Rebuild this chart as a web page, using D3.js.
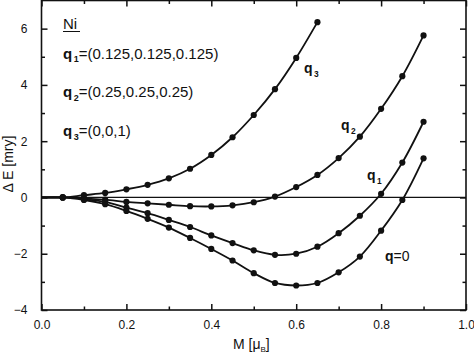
<!DOCTYPE html>
<html><head><meta charset="utf-8">
<script src="https://cdn.jsdelivr.net/npm/d3@7"></script>
<style>body{margin:0;background:#fff}svg{display:block}text{font-family:"Liberation Sans",Arial,Helvetica,sans-serif;fill:#111}</style>
</head><body>
<script>
const M = [0,0.05,0.1,0.15,0.2,0.25,0.3,0.35,0.4,0.45,0.5,0.55,0.6,0.65,0.7,0.75,0.8,0.85,0.9];
const q3 = [0,0,0.08,0.16,0.29,0.45,0.68,1.02,1.51,2.14,2.93,3.85,4.96,6.23];
const q2 = [0,0,-0.04,-0.08,-0.16,-0.21,-0.26,-0.31,-0.32,-0.28,-0.17,0.03,0.37,0.80,1.40,2.16,3.15,4.31,5.76];
const q1 = [0,0,-0.06,-0.16,-0.36,-0.56,-0.80,-1.05,-1.35,-1.62,-1.88,-2.04,-2.00,-1.75,-1.27,-0.65,0.13,1.24,2.69];
const q0 = [0,0,-0.09,-0.24,-0.48,-0.76,-1.07,-1.44,-1.83,-2.24,-2.69,-3.04,-3.13,-3.04,-2.66,-2.10,-1.18,-0.09,1.39];
const seriesList = [q3,q2,q1,q0];
const xTicks = [0,0.2,0.4,0.6,0.8,1.0];
const yTicks = [-4,-2,0,2,4,6];

const W=474,H=356;
const L=41.5,R=466,T=0.5,B=310;
const svg=d3.select("body").append("svg").attr("width",W).attr("height",H);
const x=d3.scaleLinear().domain([0,1]).range([L,R]);
const y=d3.scaleLinear().domain([-4,7]).range([B,T]);

// frame
svg.append("rect").attr("x",L).attr("y",T).attr("width",R-L).attr("height",B-T)
  .attr("fill","none").attr("stroke","#111").attr("stroke-width",1.6);

// ticks (inward)
const minorX=d3.range(0.1,1,0.2), minorY=d3.range(-3,7,2);
function fmtX(d){return d.toFixed(1);}
const axB=d3.axisBottom(x).tickValues(xTicks).tickSize(-6).tickFormat(fmtX).tickPadding(10);
const gB=svg.append("g").attr("transform",`translate(0,${B})`).call(axB);
svg.append("g").attr("transform",`translate(0,${B})`).call(d3.axisBottom(x).tickValues(minorX).tickSize(-3.5).tickFormat(""));
svg.append("g").attr("transform",`translate(0,${T})`).call(d3.axisTop(x).tickValues(xTicks).tickSize(-6).tickFormat(""));
svg.append("g").attr("transform",`translate(0,${T})`).call(d3.axisTop(x).tickValues(minorX).tickSize(-3.5).tickFormat(""));
const gL=svg.append("g").attr("transform",`translate(${L},0)`).call(d3.axisLeft(y).tickValues(yTicks).tickSize(-6).tickFormat(d3.format("d")).tickPadding(14));
svg.append("g").attr("transform",`translate(${L},0)`).call(d3.axisLeft(y).tickValues(minorY).tickSize(-3.5).tickFormat(""));
svg.append("g").attr("transform",`translate(${R},0)`).call(d3.axisRight(y).tickValues(yTicks).tickSize(-6).tickFormat(""));
svg.append("g").attr("transform",`translate(${R},0)`).call(d3.axisRight(y).tickValues(minorY).tickSize(-3.5).tickFormat(""));
svg.selectAll(".domain").remove();
svg.selectAll(".tick line").attr("stroke","#111").attr("stroke-width",1.5);
svg.selectAll(".tick text").attr("font-size",12).attr("fill","#111");

// zero line
svg.append("line").attr("x1",L).attr("x2",R).attr("y1",y(0)).attr("y2",y(0)).attr("stroke","#111").attr("stroke-width",1.2);

const line=d3.line().x(d=>x(d[0])).y(d=>y(d[1])).curve(d3.curveCatmullRom.alpha(0.5));
seriesList.forEach(s=>{
  const pts=s.map((v,i)=>[M[i],v]);
  svg.append("path").attr("d",line(pts)).attr("fill","none").attr("stroke","#111").attr("stroke-width",1.8);
  svg.selectAll(null).data(pts.filter(p=>p[0]>0)).enter().append("circle")
    .attr("cx",d=>x(d[0])).attr("cy",d=>y(d[1])).attr("r",3.1).attr("fill","#111");
});

// legend text
const fs=15;
svg.append("text").attr("x",63).attr("y",29).attr("font-size",fs).text("Ni");
svg.append("line").attr("x1",63).attr("x2",80).attr("y1",31.5).attr("y2",31.5).attr("stroke","#111").attr("stroke-width",1);
function qlabel(xp,yp,sub,rest,size){
  const t=svg.append("text").attr("x",xp).attr("y",yp).attr("font-size",size);
  t.append("tspan").attr("font-weight","bold").text("q");
  if(sub){t.append("tspan").attr("font-size",size*0.6).attr("font-weight","bold").attr("dx",1.5).attr("dy",3.5).text(sub);
    t.append("tspan").attr("dy",-3.5).text(rest);} else t.append("tspan").text(rest);
}
qlabel(63,58.5,"1","=(0.125,0.125,0.125)",fs);
qlabel(63,97,"2","=(0.25,0.25,0.25)",fs);
qlabel(63,136,"3","=(0,0,1)",fs);
qlabel(304,73,"3","",14);
qlabel(341,130,"2","",14);
qlabel(367,180,"1","",14);
const q0t=svg.append("text").attr("x",385).attr("y",261).attr("font-size",14);
q0t.append("tspan").attr("font-weight","bold").text("q");
q0t.append("tspan").text("=0");

// axis titles
const xl=svg.append("text").attr("x",233).attr("y",349).attr("font-size",14);
xl.append("tspan").text("M [μ");
xl.append("tspan").attr("font-size",8).attr("dy",3).text("B");
xl.append("tspan").attr("dy",-3).text("]");
svg.append("text").attr("transform","translate(13,164) rotate(-90)").attr("text-anchor","middle").attr("font-size",14).text("Δ E [mry]");
</script>
</body></html>
